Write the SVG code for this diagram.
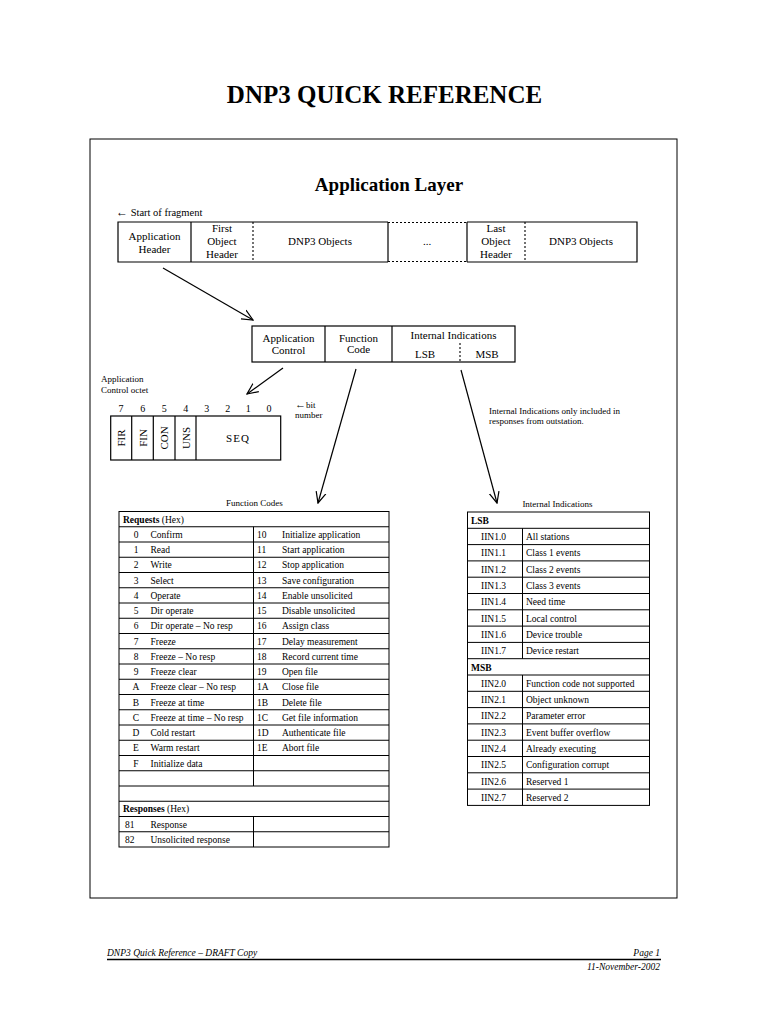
<svg xmlns="http://www.w3.org/2000/svg" width="768" height="1024" viewBox="0 0 768 1024">
<style>
text{font-family:"Liberation Serif","Times New Roman",serif;fill:#000}
.t{font-size:9.5px}
.b{font-size:11px}
.s{font-size:9px}
.n{font-size:10px}
.m{text-anchor:middle}
.e{text-anchor:end}
.ln{fill:none;stroke:#000;stroke-width:1.2}
.th{fill:none;stroke:#000;stroke-width:1}
.dash{fill:none;stroke:#000;stroke-width:1.1;stroke-dasharray:2,2}
.con{fill:none;stroke:#000;stroke-width:1.2;marker-end:url(#ah)}
</style>
<defs>
<marker id="ah" markerUnits="userSpaceOnUse" markerWidth="12" markerHeight="12" refX="11" refY="5" orient="auto" viewBox="0 0 12 10">
<path d="M0,0 L11,5 L0,10" fill="none" stroke="#000" stroke-width="1.2"/>
</marker>
</defs>
<rect width="768" height="1024" fill="#fff"/>

<g id="title">
<text x="384.5" y="103" class="m" style="font-size:25px;font-weight:bold">DNP3 QUICK REFERENCE</text>
</g>

<g id="frame">
<rect x="90" y="139" width="587" height="759" class="th"/>
<text x="389" y="191" class="m" style="font-size:19px;font-weight:bold">Application Layer</text>
</g>

<g id="fragment">
<text x="116" y="216" style="font-size:10.5px"><tspan style="font-size:12px">←</tspan> Start of fragment</text>
<path class="ln" d="M388,222 H118 V262 H388 M467,222 H637 V262 H467 M191,222 V262 M388,222 V262 M467,222 V262"/>
<path class="dash" d="M253,222 V262 M525,222 V262"/>
<path class="dash" d="M388,222.5 H467 M388,261.5 H467"/>
<text x="154.5" y="240" class="b m">Application</text>
<text x="154.5" y="253" class="b m">Header</text>
<text x="222" y="232" class="b m">First</text>
<text x="222" y="245" class="b m">Object</text>
<text x="222" y="258" class="b m">Header</text>
<text x="320" y="245" class="b m">DNP3 Objects</text>
<text x="427" y="245" class="b m">...</text>
<text x="496" y="232" class="b m">Last</text>
<text x="496" y="245" class="b m">Object</text>
<text x="496" y="258" class="b m">Header</text>
<text x="581" y="245" class="b m">DNP3 Objects</text>
</g>

<g id="app-header">
<rect x="252" y="326" width="263" height="36" class="ln"/>
<path class="ln" d="M325,326 V362 M392,326 V362"/>
<path class="dash" d="M460,343 V361"/>
<text x="288.5" y="342" class="b m">Application</text>
<text x="288.5" y="354" class="b m">Control</text>
<text x="358.5" y="342" class="b m">Function</text>
<text x="358.5" y="353" class="b m">Code</text>
<text x="453.5" y="339" class="b m">Internal Indications</text>
<text x="425" y="358" class="b m">LSB</text>
<text x="487" y="358" class="b m">MSB</text>
</g>

<g id="control-octet">
<text x="101" y="382" class="s">Application</text>
<text x="101" y="393" class="s">Control octet</text>
<text x="121" y="412" class="n m">7</text>
<text x="142.7" y="412" class="n m">6</text>
<text x="164.3" y="412" class="n m">5</text>
<text x="185.7" y="412" class="n m">4</text>
<text x="206.7" y="412" class="n m">3</text>
<text x="227.7" y="412" class="n m">2</text>
<text x="248.3" y="412" class="n m">1</text>
<text x="269" y="412" class="n m">0</text>
<text x="295" y="408" class="s"><tspan style="font-size:11px">←</tspan>bit</text>
<text x="295" y="418" class="s">number</text>
<rect x="110.7" y="416" width="170" height="44" class="ln"/>
<path class="ln" d="M131.7,416 V460 M153.3,416 V460 M175,416 V460 M196,416 V460"/>
<text transform="translate(125,438) rotate(-90)" class="b m">FIR</text>
<text transform="translate(146.5,438) rotate(-90)" class="b m">FIN</text>
<text transform="translate(168,438) rotate(-90)" class="b m">CON</text>
<text transform="translate(189.5,438) rotate(-90)" class="b m">UNS</text>
<text x="238" y="442" class="b m" style="letter-spacing:1px">SEQ</text>
</g>

<g id="iin-note">
<text x="489" y="414" class="s">Internal Indications only included in</text>
<text x="489" y="424" class="s">responses from outstation.</text>
</g>

<g id="function-codes">
<text x="254.5" y="506" class="s m">Function Codes</text>
<rect x="119" y="511.5" width="270" height="335.5" class="th"/>
<path class="th" d="M119,526.75H389 M119,542H389 M119,557.25H389 M119,572.5H389 M119,587.75H389 M119,603H389 M119,618.25H389 M119,633.5H389 M119,648.75H389 M119,664H389 M119,679.25H389 M119,694.5H389 M119,709.75H389 M119,725H389 M119,740.25H389 M119,755.5H389 M119,770.75H389 M119,786H389 M119,801.25H389 M119,816.5H389 M119,831.75H389 M253.5,526.75V786 M253.5,816.5V847"/>
<text x="123" y="522.5" class="t"><tspan font-weight="bold">Requests</tspan> (Hex)</text>
<g class="t">
<text x="136" y="537.75" class="m">0</text><text x="150.5" y="537.75">Confirm</text><text x="257" y="537.75">10</text><text x="282" y="537.75">Initialize application</text>
<text x="136" y="553" class="m">1</text><text x="150.5" y="553">Read</text><text x="257" y="553">11</text><text x="282" y="553">Start application</text>
<text x="136" y="568.25" class="m">2</text><text x="150.5" y="568.25">Write</text><text x="257" y="568.25">12</text><text x="282" y="568.25">Stop application</text>
<text x="136" y="583.5" class="m">3</text><text x="150.5" y="583.5">Select</text><text x="257" y="583.5">13</text><text x="282" y="583.5">Save configuration</text>
<text x="136" y="598.75" class="m">4</text><text x="150.5" y="598.75">Operate</text><text x="257" y="598.75">14</text><text x="282" y="598.75">Enable unsolicited</text>
<text x="136" y="614" class="m">5</text><text x="150.5" y="614">Dir operate</text><text x="257" y="614">15</text><text x="282" y="614">Disable unsolicited</text>
<text x="136" y="629.25" class="m">6</text><text x="150.5" y="629.25">Dir operate – No resp</text><text x="257" y="629.25">16</text><text x="282" y="629.25">Assign class</text>
<text x="136" y="644.5" class="m">7</text><text x="150.5" y="644.5">Freeze</text><text x="257" y="644.5">17</text><text x="282" y="644.5">Delay measurement</text>
<text x="136" y="659.75" class="m">8</text><text x="150.5" y="659.75">Freeze – No resp</text><text x="257" y="659.75">18</text><text x="282" y="659.75">Record current time</text>
<text x="136" y="675" class="m">9</text><text x="150.5" y="675">Freeze clear</text><text x="257" y="675">19</text><text x="282" y="675">Open file</text>
<text x="136" y="690.25" class="m">A</text><text x="150.5" y="690.25">Freeze clear – No resp</text><text x="257" y="690.25">1A</text><text x="282" y="690.25">Close file</text>
<text x="136" y="705.5" class="m">B</text><text x="150.5" y="705.5">Freeze at time</text><text x="257" y="705.5">1B</text><text x="282" y="705.5">Delete file</text>
<text x="136" y="720.75" class="m">C</text><text x="150.5" y="720.75">Freeze at time – No resp</text><text x="257" y="720.75">1C</text><text x="282" y="720.75">Get file information</text>
<text x="136" y="736" class="m">D</text><text x="150.5" y="736">Cold restart</text><text x="257" y="736">1D</text><text x="282" y="736">Authenticate file</text>
<text x="136" y="751.25" class="m">E</text><text x="150.5" y="751.25">Warm restart</text><text x="257" y="751.25">1E</text><text x="282" y="751.25">Abort file</text>
<text x="136" y="766.5" class="m">F</text><text x="150.5" y="766.5">Initialize data</text>
<text x="123" y="812.25"><tspan font-weight="bold">Responses</tspan> (Hex)</text>
<text x="125" y="827.5">81</text><text x="150.5" y="827.5">Response</text>
<text x="125" y="842.75">82</text><text x="150.5" y="842.75">Unsolicited response</text>
</g>
</g>

<g id="internal-indications">
<text x="557.5" y="507" class="s m">Internal Indications</text>
<rect x="467.5" y="512" width="182" height="293.4" class="th"/>
<path class="th" d="M467.5,528.3H649.5 M467.5,544.6H649.5 M467.5,560.9H649.5 M467.5,577.2H649.5 M467.5,593.5H649.5 M467.5,609.8H649.5 M467.5,626.1H649.5 M467.5,642.4H649.5 M467.5,658.7H649.5 M467.5,675H649.5 M467.5,691.3H649.5 M467.5,707.6H649.5 M467.5,723.9H649.5 M467.5,740.2H649.5 M467.5,756.5H649.5 M467.5,772.8H649.5 M467.5,789.1H649.5 M522.5,528.3V658.7 M522.5,675V805.4"/>
<g class="t">
<text x="471" y="523.8" font-weight="bold">LSB</text>
<text x="481" y="540.1">IIN1.0</text><text x="526" y="540.1">All stations</text>
<text x="481" y="556.4">IIN1.1</text><text x="526" y="556.4">Class 1 events</text>
<text x="481" y="572.7">IIN1.2</text><text x="526" y="572.7">Class 2 events</text>
<text x="481" y="589">IIN1.3</text><text x="526" y="589">Class 3 events</text>
<text x="481" y="605.3">IIN1.4</text><text x="526" y="605.3">Need time</text>
<text x="481" y="621.6">IIN1.5</text><text x="526" y="621.6">Local control</text>
<text x="481" y="637.9">IIN1.6</text><text x="526" y="637.9">Device trouble</text>
<text x="481" y="654.2">IIN1.7</text><text x="526" y="654.2">Device restart</text>
<text x="471" y="670.5" font-weight="bold">MSB</text>
<text x="481" y="686.8">IIN2.0</text><text x="526" y="686.8">Function code not supported</text>
<text x="481" y="703.1">IIN2.1</text><text x="526" y="703.1">Object unknown</text>
<text x="481" y="719.4">IIN2.2</text><text x="526" y="719.4">Parameter error</text>
<text x="481" y="735.7">IIN2.3</text><text x="526" y="735.7">Event buffer overflow</text>
<text x="481" y="752">IIN2.4</text><text x="526" y="752">Already executing</text>
<text x="481" y="768.3">IIN2.5</text><text x="526" y="768.3">Configuration corrupt</text>
<text x="481" y="784.6">IIN2.6</text><text x="526" y="784.6">Reserved 1</text>
<text x="481" y="800.9">IIN2.7</text><text x="526" y="800.9">Reserved 2</text>
</g>
</g>

<g id="connectors">
<path class="con" d="M163,268 L253,320"/>
<path class="con" d="M283,368 L247,394"/>
<path class="con" d="M356,369 L318,503"/>
<path class="con" d="M461,370 L497,503"/>
</g>

<g id="footer">
<text x="107" y="956" class="t" font-style="italic">DNP3 Quick Reference – DRAFT Copy</text>
<text x="660" y="956" class="t e" font-style="italic">Page 1</text>
<path d="M107,959.5 H661" stroke="#000" stroke-width="1.5"/>
<text x="660" y="970" class="t e" font-style="italic">11-November-2002</text>
</g>
</svg>
